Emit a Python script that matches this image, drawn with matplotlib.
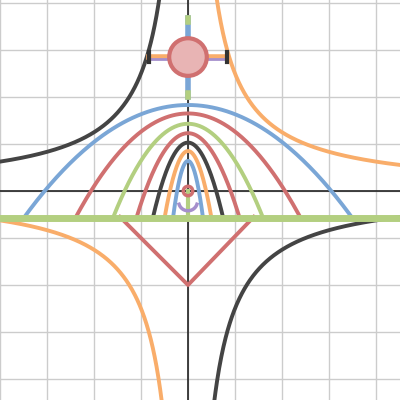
import matplotlib
matplotlib.use('Agg')
import matplotlib.pyplot as plt
import numpy as np

# graph scale: one unit = 47 px, origin at pixel (188, 191)
U = 47.0
x_lo, x_hi = -188 / U, 212 / U
y_lo, y_hi = -209 / U, 191 / U

# hyperbolas y = k / x
hyp_k = [-2.5, 2.5]
hyp_colors = ['#444444', '#f9ad6a']

# downward arches: peak height and half-width, all standing on a common base
base_y = -0.58
arch_peak = [1.83, 1.65, 1.43, 1.23, 1.03, 0.85, 0.64]
arch_half = [3.5, 2.4, 1.6, 1.1, 0.75, 0.5, 0.32]
arch_colors = ['#7aa6d6', '#d07070', '#b3cf80', '#d07070', '#444444', '#f9ad6a', '#7aa6d6']

# red V below the base
v_x = [-1.45, 0.0, 1.4]
v_y = [-0.55, -2.0, -0.55]

# target circle with cross
circ_center = (0.0, 2.85)
circ_r = 0.4
arm_h = [-0.82, 0.82]
arm_v = [2.0, 3.68]

fig = plt.figure(figsize=(4, 4), dpi=100)
ax = fig.add_axes([0, 0, 1, 1])
ax.set_xlim(x_lo, x_hi)
ax.set_ylim(y_lo, y_hi)
ax.axis('off')

# grid
for gx in range(-4, 5):
    ax.axvline(gx, color='#cccccc', lw=1, zorder=0)
for gy in range(-4, 5):
    ax.axhline(gy, color='#cccccc', lw=1, zorder=0)
ax.axvline(0, color='#222222', lw=1.2, zorder=1)
ax.axhline(0, color='#222222', lw=1.2, zorder=1)

lw = 2.8
for k, c in zip(hyp_k, hyp_colors):
    for xs in (np.linspace(x_lo, -0.01, 400), np.linspace(0.01, x_hi, 400)):
        ax.plot(xs, k / xs, color=c, lw=lw, zorder=3)

for h, w, c in zip(arch_peak, arch_half, arch_colors):
    xs = np.linspace(-w, w, 200)
    ax.plot(xs, base_y + (h - base_y) * (1 - (xs / w) ** 2), color=c, lw=lw, zorder=3)

ax.plot(v_x, v_y, color='#d07070', lw=lw, zorder=3)
ax.axhline(base_y, color='#b3cf80', lw=5, zorder=4)

# small marks near the origin
ax.plot([0, 0], [0, base_y], color='#b3cf80', lw=3, zorder=5)
ax.add_patch(plt.Circle((0, 0), 0.1, fill=False, ec='#d07070', lw=2.5, zorder=5))
t = np.linspace(np.pi * 1.1, np.pi * 1.9, 30)
ax.plot(0.2 * np.cos(t), -0.22 + 0.2 * np.sin(t), color='#a58fcc', lw=2.5, zorder=5)

# cross and circle
cx, cy = circ_center
ax.plot(arm_h, [cy, cy], color='#f9ad6a', lw=4, zorder=5)
ax.plot(arm_h, [cy - 0.05, cy - 0.05], color='#a58fcc', lw=2, zorder=5)
ax.plot([cx, cx], arm_v, color='#7aa6d6', lw=4, zorder=5)
ax.plot([arm_h[0]] * 2, [cy - 0.1, cy + 0.1], color='#333333', lw=3, zorder=6)
ax.plot([arm_h[1]] * 2, [cy - 0.1, cy + 0.1], color='#333333', lw=3, zorder=6)
ax.plot([cx, cx], [arm_v[0], arm_v[0] + 0.08], color='#b3cf80', lw=4, zorder=6)
ax.plot([cx, cx], [arm_v[1] - 0.08, arm_v[1]], color='#b3cf80', lw=4, zorder=6)
ax.add_patch(plt.Circle(circ_center, circ_r, fc='#e8b4b4', ec='#d07070', lw=3, zorder=7))

fig.savefig('out.png', dpi=100)
